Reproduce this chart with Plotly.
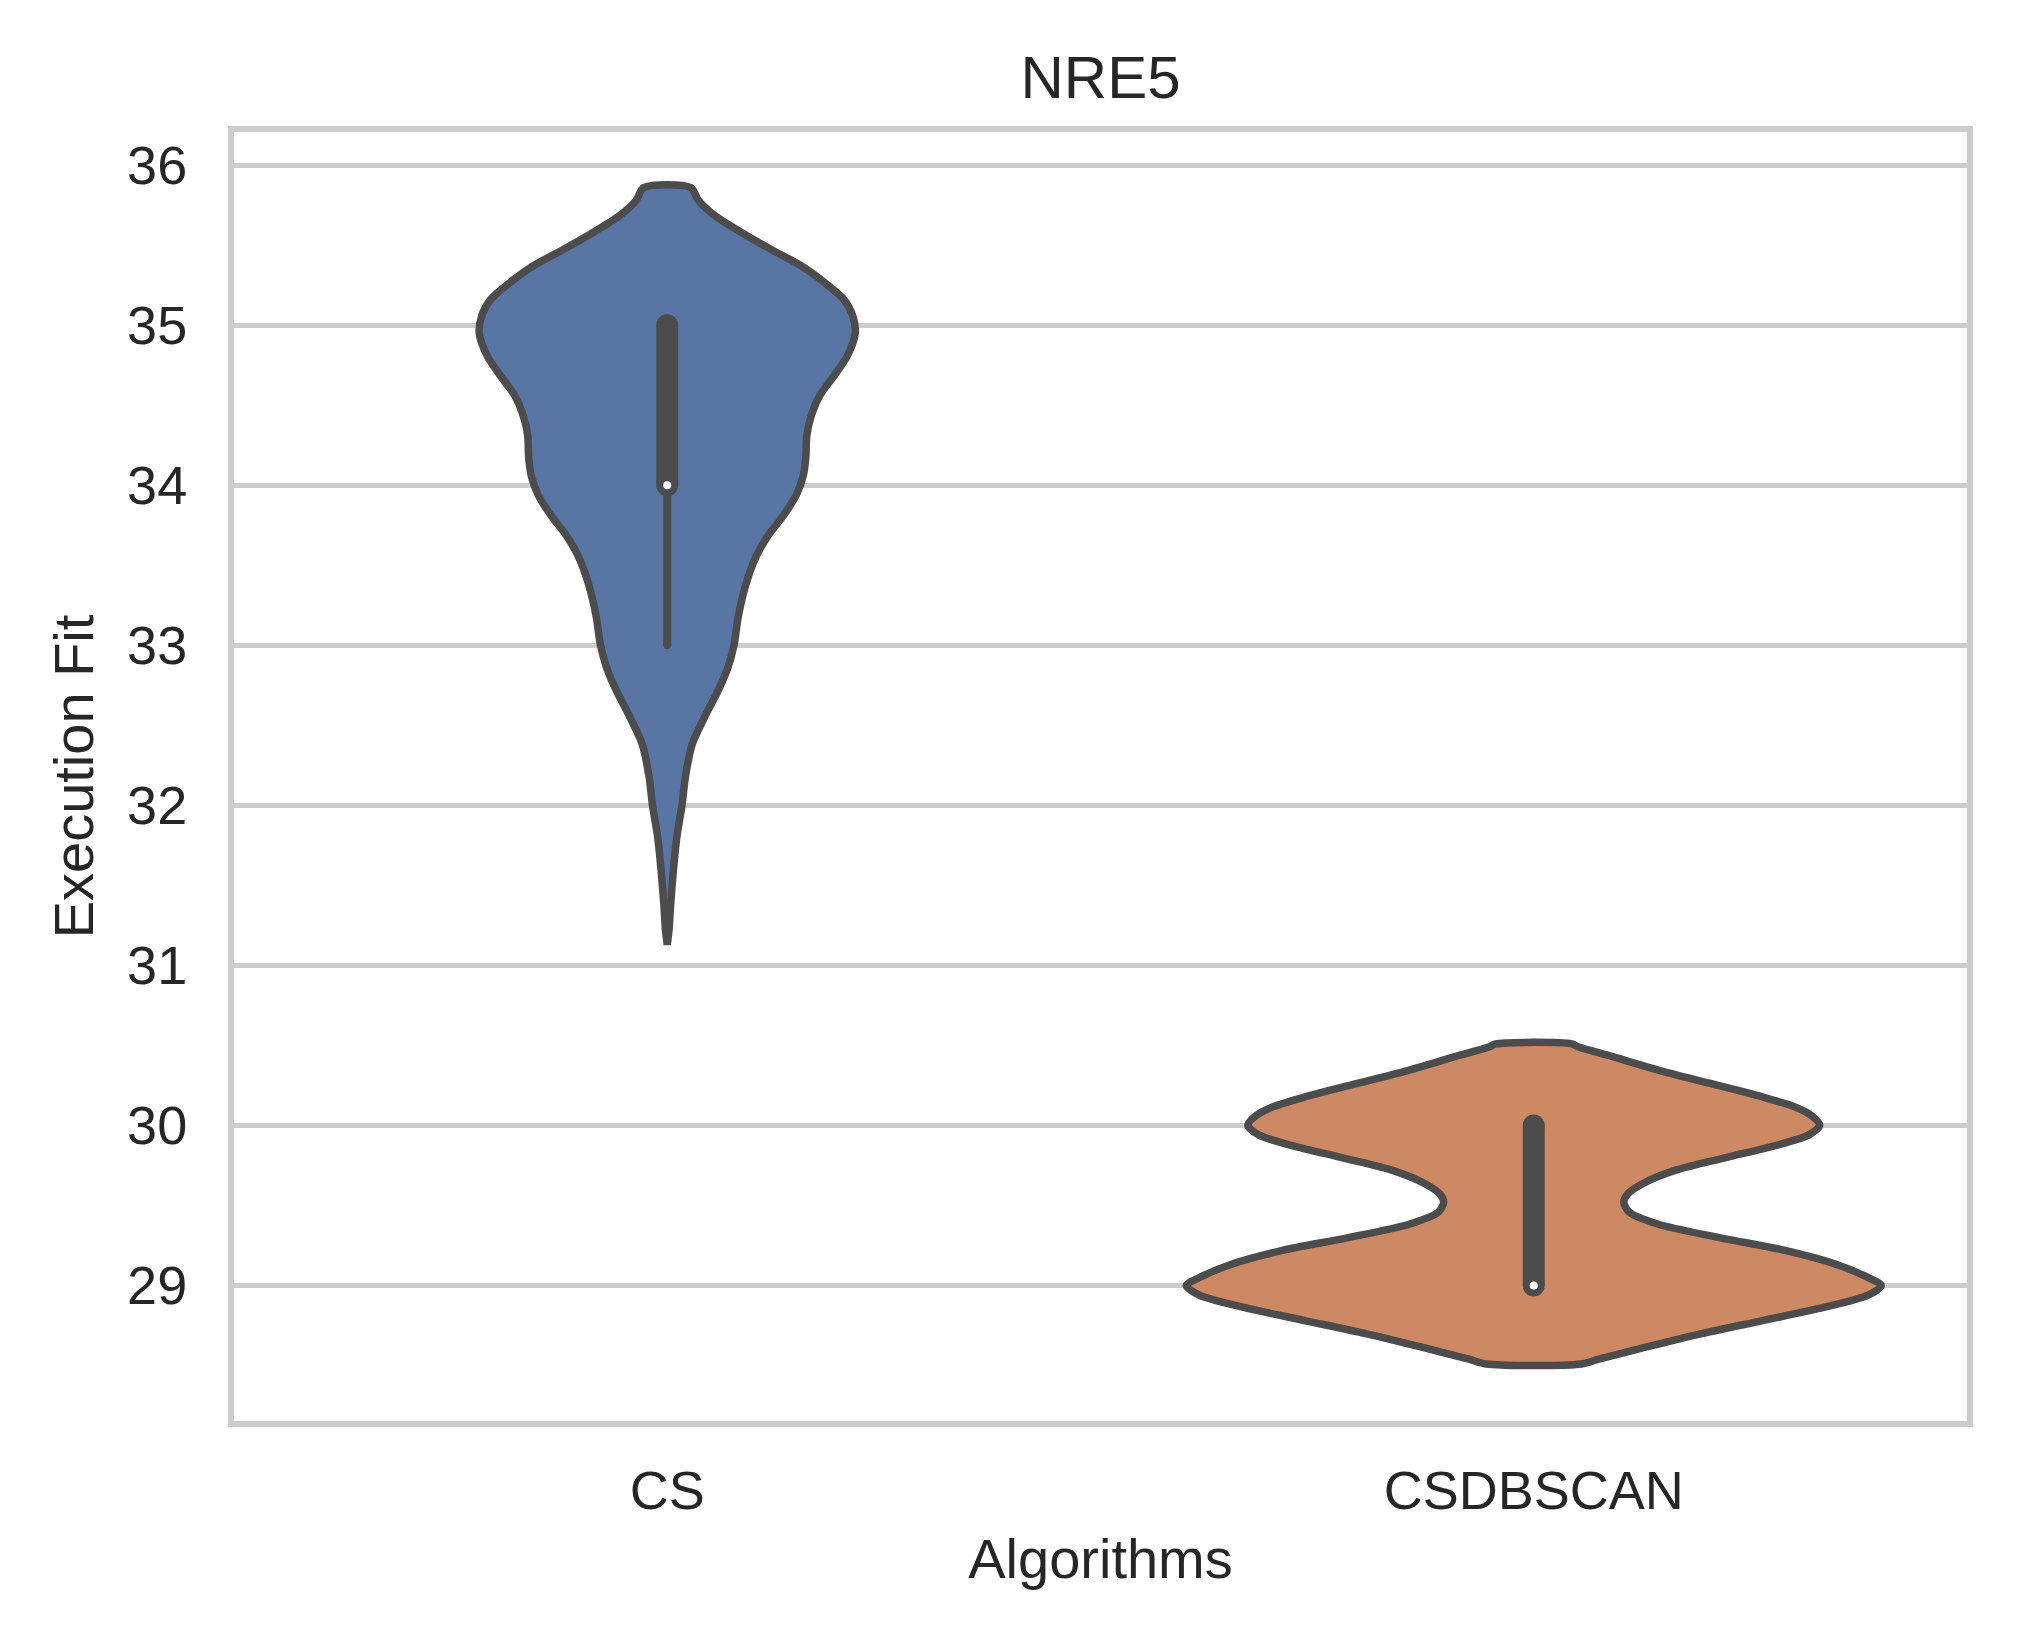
"""
NRE5 violin chart - Execution Fit per algorithm
"""

import plotly.graph_objects as go

# Categories on the x axis
categories = ["CS", "CSDBSCAN"]

# Violin outlines: y level and half-width (x units)
cs_y = [35.86, 35.78, 35.68, 35.575, 35.47, 35.37, 35.26, 35.16, 35.06, 34.95,
        34.81, 34.68, 34.56, 34.43, 34.31, 34.18, 34.06, 33.94, 33.81, 33.69,
        33.56, 33.385, 33.18, 33.0, 32.86, 32.72, 32.55, 32.385, 32.18, 32.0,
        31.8, 31.59, 31.385, 31.22, 31.13]
cs_halfwidth = [0.027, 0.036, 0.056, 0.087, 0.121, 0.155, 0.183, 0.204, 0.214, 0.217,
                0.208, 0.192, 0.176, 0.166, 0.161, 0.160, 0.157, 0.149, 0.134, 0.117,
                0.103, 0.091, 0.082, 0.077, 0.070, 0.059, 0.043, 0.029, 0.021, 0.017,
                0.011, 0.007, 0.004, 0.002, 0.0]

csdb_y = [30.51, 30.49, 30.43, 30.34, 30.26, 30.18, 30.115, 30.06, 30.0, 29.94,
          29.875, 29.80, 29.72, 29.635, 29.57, 29.52, 29.46, 29.385, 29.30, 29.22,
          29.135, 29.06, 29.0, 28.94, 28.865, 28.78, 28.70, 28.615, 28.54, 28.51]
csdb_halfwidth = [0.044, 0.052, 0.091, 0.148, 0.206, 0.263, 0.302, 0.321, 0.330, 0.317,
                  0.279, 0.222, 0.163, 0.125, 0.108, 0.104, 0.110, 0.143, 0.214, 0.290,
                  0.348, 0.382, 0.401, 0.386, 0.336, 0.263, 0.194, 0.129, 0.075, 0.055]

# Inner box stats
q1 = [34, 29]
q3 = [35, 30]
whisker_low = [33, 29]
whisker_high = [35, 30]
medians = [34, 29]

y_ticks = [29, 30, 31, 32, 33, 34, 35, 36]

FILL_COLORS = ["#5875a4", "#cc8963"]
EDGE = "#4c4c4c"
GRID = "#cccccc"
TEXT = "#262626"
FONT = "Liberation Sans, Arial, sans-serif"


def violin_outline(center, ys, widths):
    """Closed outline: right side top->bottom, then left side bottom->top."""
    xs = [center + w for w in widths] + [center - w for w in reversed(widths)]
    yy = list(ys) + list(reversed(ys))
    xs.append(xs[0])
    yy.append(yy[0])
    return xs, yy


fig = go.Figure()

profiles = [(cs_y, cs_halfwidth), (csdb_y, csdb_halfwidth)]
for i, (ys, ws) in enumerate(profiles):
    xs, yy = violin_outline(i, ys, ws)
    fig.add_trace(go.Scatter(
        x=xs, y=yy, mode="lines", fill="toself",
        fillcolor=FILL_COLORS[i],
        line=dict(color=EDGE, width=7.5, shape="spline", smoothing=0.8),
        hoverinfo="skip", showlegend=False,
    ))

for i in range(len(categories)):
    # whisker
    fig.add_trace(go.Scatter(
        x=[i, i], y=[whisker_low[i], whisker_high[i]], mode="lines+markers",
        line=dict(color=EDGE, width=8), marker=dict(color=EDGE, size=8),
        hoverinfo="skip", showlegend=False,
    ))
    # interquartile bar with rounded ends
    fig.add_trace(go.Scatter(
        x=[i, i], y=[q1[i], q3[i]], mode="lines+markers",
        line=dict(color=EDGE, width=22), marker=dict(color=EDGE, size=22),
        hoverinfo="skip", showlegend=False,
    ))
    # median
    fig.add_trace(go.Scatter(
        x=[i], y=[medians[i]], mode="markers",
        marker=dict(color="white", size=8),
        hoverinfo="skip", showlegend=False,
    ))

fig.update_layout(
    width=2036,
    height=1630,
    paper_bgcolor="white",
    plot_bgcolor="white",
    margin=dict(l=226, r=77, t=124, b=217),
    font=dict(family=FONT, color=TEXT, size=54),
    title=dict(
        text="NRE5",
        x=0.5, xref="paper", xanchor="center",
        y=1 - 69 / 1630, yref="container", yanchor="middle",
        font=dict(size=60, color=TEXT),
    ),
    showlegend=False,
    xaxis=dict(
        range=[-0.5, 1.5],
        tickvals=[0, 1],
        ticktext=categories,
        showgrid=False,
        zeroline=False,
        showline=True, mirror=True, linecolor=GRID, linewidth=6,
        ticks="", ticklabelstandoff=17,
        tickfont=dict(size=54, color=TEXT),
        title=dict(text="Algorithms", font=dict(size=56, color=TEXT), standoff=22),
    ),
    yaxis=dict(
        range=[28.154, 36.207],
        tickvals=y_ticks,
        showgrid=True, gridcolor=GRID, gridwidth=5,
        zeroline=False,
        showline=True, mirror=True, linecolor=GRID, linewidth=6,
        ticks="", ticklabelstandoff=30,
        tickfont=dict(size=54, color=TEXT),
        title=dict(text="Execution Fit", font=dict(size=56, color=TEXT), standoff=18),
    ),
)

fig.write_html("out.html")
